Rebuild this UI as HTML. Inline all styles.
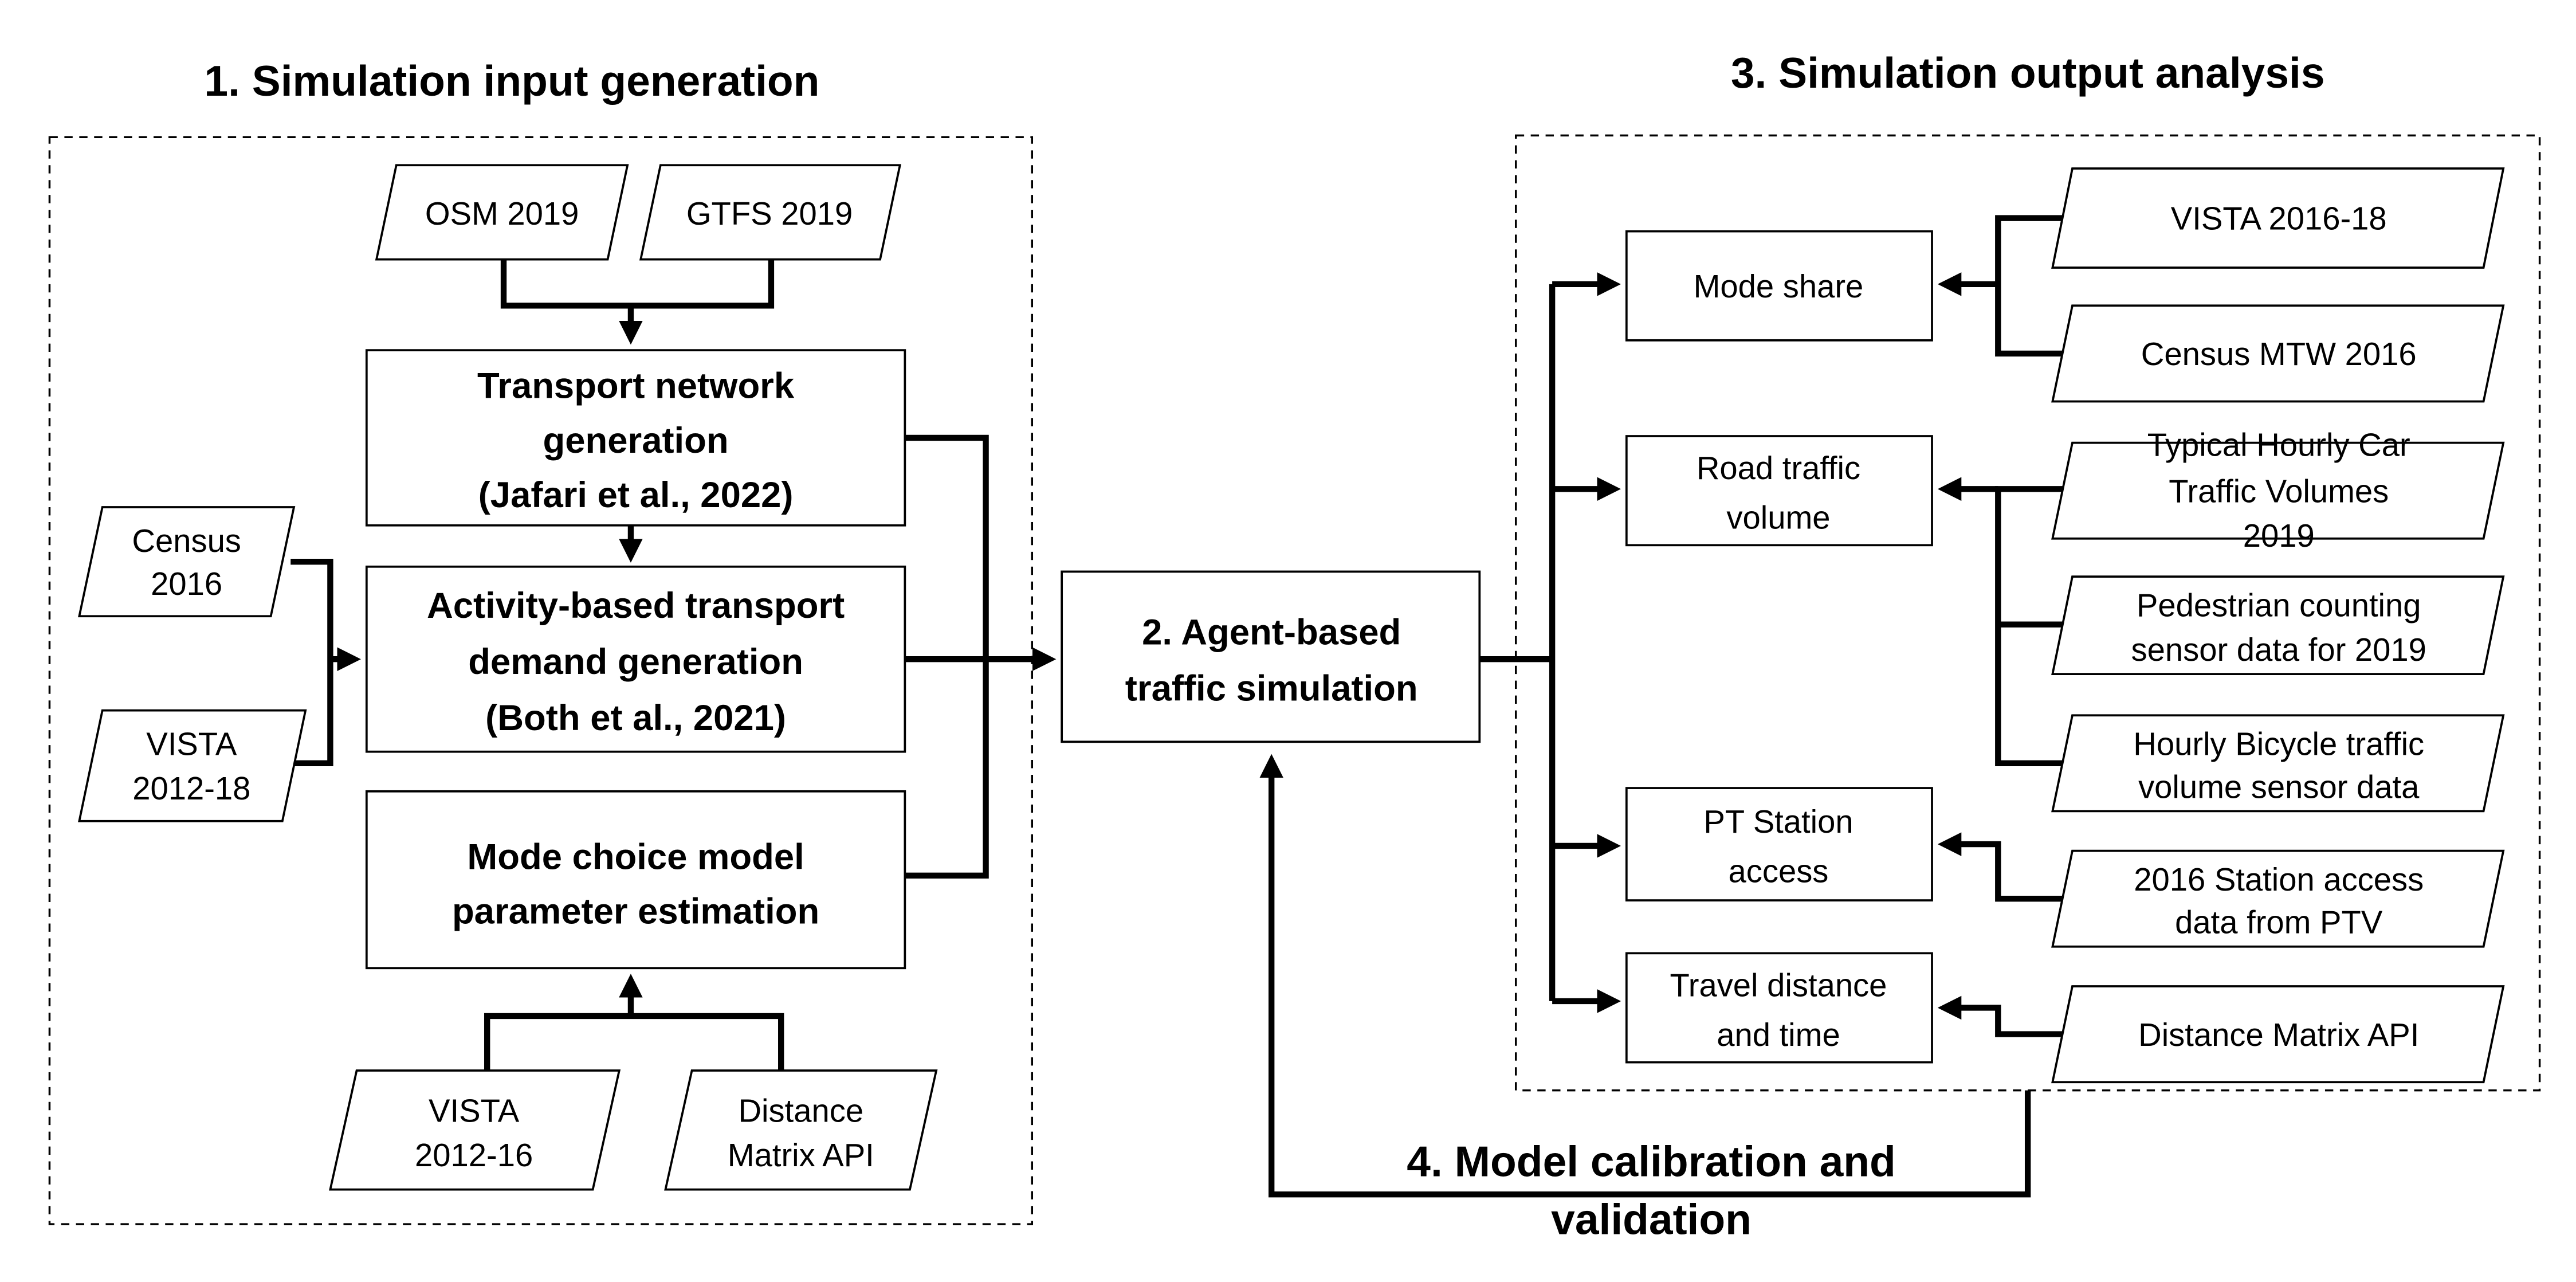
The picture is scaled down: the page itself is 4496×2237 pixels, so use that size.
<!DOCTYPE html>
<html><head><meta charset="utf-8"><style>
html,body{margin:0;padding:0;background:#fff;}
svg{display:block;}
text{font-family:"Liberation Sans",sans-serif;fill:#000;}
.t{font-size:19.5px;text-anchor:middle;}
.b{font-size:22px;font-weight:bold;text-anchor:middle;}
.h{font-size:26px;font-weight:bold;text-anchor:middle;}
.s{fill:#fff;stroke:#000;stroke-width:1.3;}
.c{fill:none;stroke:#000;stroke-width:3.6;}
.d{fill:none;stroke:#000;stroke-width:1.2;stroke-dasharray:5,4;}
</style></head><body>
<svg width="4496" height="2237" viewBox="0 0 1560 776" preserveAspectRatio="none" xmlns="http://www.w3.org/2000/svg">
<defs><marker id="a" markerWidth="4" markerHeight="4" refX="3" refY="2" orient="auto" markerUnits="strokeWidth"><path d="M0,0 L4,2 L0,4 z" fill="#000"/></marker></defs>
<text class="h" x="310" y="58">1. Simulation input generation</text>
<text class="h" x="1228" y="53">3. Simulation output analysis</text>
<rect class="d" x="30" y="83" width="595" height="658"/>
<rect class="d" x="918" y="82" width="620" height="578"/>

<!-- left connectors -->
<path class="c" d="M305,157 V185 H467 V157"/>
<path class="c" d="M382,185 V205" marker-end="url(#a)"/>
<path class="c" d="M382,318 V337" marker-end="url(#a)"/>
<path class="c" d="M295,648 V615 H473 V648"/>
<path class="c" d="M382,615 V593" marker-end="url(#a)"/>
<path class="c" d="M176,340 H200 V462 H178"/>
<path class="c" d="M200,399 H215" marker-end="url(#a)"/>
<path class="c" d="M548,265 H597 V530 H548"/>
<path class="c" d="M548,399 H636" marker-end="url(#a)"/>
<path class="c" d="M896,399 H940"/>
<path class="c" d="M940,172 V606"/>
<path class="c" d="M940,172 H978" marker-end="url(#a)"/>
<path class="c" d="M940,296 H978" marker-end="url(#a)"/>
<path class="c" d="M940,512 H978" marker-end="url(#a)"/>
<path class="c" d="M940,606 H978" marker-end="url(#a)"/>
<path class="c" d="M1250,132 H1210 V214 H1250"/>
<path class="c" d="M1210,172 H1177" marker-end="url(#a)"/>
<path class="c" d="M1250,296 H1210 V462 H1250 M1210,378 H1250"/>
<path class="c" d="M1210,296 H1177" marker-end="url(#a)"/>
<path class="c" d="M1250,544 H1210 V511 H1177" marker-end="url(#a)"/>
<path class="c" d="M1250,626 H1210 V610 H1177" marker-end="url(#a)"/>
<path class="c" d="M1228,660 V723 H770 V460" marker-end="url(#a)"/>

<!-- left shapes -->
<polygon class="s" points="240,100 380,100 368,157 228,157"/>
<text class="t" x="304" y="136">OSM 2019</text>
<polygon class="s" points="400,100 545,100 533,157 388,157"/>
<text class="t" x="466" y="136">GTFS 2019</text>
<rect class="s" x="222" y="212" width="326" height="106"/>
<text class="b" x="385" y="241">Transport network</text>
<text class="b" x="385" y="274">generation</text>
<text class="b" x="385" y="307">(Jafari et al., 2022)</text>
<rect class="s" x="222" y="343" width="326" height="112"/>
<text class="b" x="385" y="374">Activity-based transport</text>
<text class="b" x="385" y="408">demand generation</text>
<text class="b" x="385" y="442">(Both et al., 2021)</text>
<rect class="s" x="222" y="479" width="326" height="107"/>
<text class="b" x="385" y="526">Mode choice model</text>
<text class="b" x="385" y="559">parameter estimation</text>
<polygon class="s" points="62,307 178,307 164,373 48,373"/>
<text class="t" x="113" y="334">Census</text>
<text class="t" x="113" y="360">2016</text>
<polygon class="s" points="62,430 185,430 171,497 48,497"/>
<text class="t" x="116" y="457">VISTA</text>
<text class="t" x="116" y="484">2012-18</text>
<polygon class="s" points="216,648 375,648 359,720 200,720"/>
<text class="t" x="287" y="679">VISTA</text>
<text class="t" x="287" y="706">2012-16</text>
<polygon class="s" points="419,648 567,648 551,720 403,720"/>
<text class="t" x="485" y="679">Distance</text>
<text class="t" x="485" y="706">Matrix API</text>

<rect class="s" x="643" y="346" width="253" height="103"/>
<text class="b" x="770" y="390">2. Agent-based</text>
<text class="b" x="770" y="424">traffic simulation</text>

<!-- right -->
<rect class="s" x="985" y="140" width="185" height="66"/>
<text class="t" x="1077" y="180">Mode share</text>
<rect class="s" x="985" y="264" width="185" height="66"/>
<text class="t" x="1077" y="290">Road traffic</text>
<text class="t" x="1077" y="320">volume</text>
<rect class="s" x="985" y="477" width="185" height="68"/>
<text class="t" x="1077" y="504">PT Station</text>
<text class="t" x="1077" y="534">access</text>
<rect class="s" x="985" y="577" width="185" height="66"/>
<text class="t" x="1077" y="603">Travel distance</text>
<text class="t" x="1077" y="633">and time</text>

<polygon class="s" points="1255,102 1516,102 1504,162 1243,162"/>
<text class="t" x="1380" y="139">VISTA 2016-18</text>
<polygon class="s" points="1255,185 1516,185 1504,243 1243,243"/>
<text class="t" x="1380" y="221">Census MTW 2016</text>
<polygon class="s" points="1255,268 1516,268 1504,326 1243,326"/>
<text class="t" x="1380" y="276">Typical Hourly Car</text>
<text class="t" x="1380" y="304">Traffic Volumes</text>
<text class="t" x="1380" y="331">2019</text>
<polygon class="s" points="1255,349 1516,349 1504,408 1243,408"/>
<text class="t" x="1380" y="373">Pedestrian counting</text>
<text class="t" x="1380" y="400">sensor data for 2019</text>
<polygon class="s" points="1255,433 1516,433 1504,491 1243,491"/>
<text class="t" x="1380" y="457">Hourly Bicycle traffic</text>
<text class="t" x="1380" y="483">volume sensor data</text>
<polygon class="s" points="1255,515 1516,515 1504,573 1243,573"/>
<text class="t" x="1380" y="539">2016 Station access</text>
<text class="t" x="1380" y="565">data from PTV</text>
<polygon class="s" points="1255,597 1516,597 1504,655 1243,655"/>
<text class="t" x="1380" y="633">Distance Matrix API</text>

<text class="h" x="1000" y="712">4. Model calibration and</text>
<text class="h" x="1000" y="747">validation</text>
</svg>
</body></html>
